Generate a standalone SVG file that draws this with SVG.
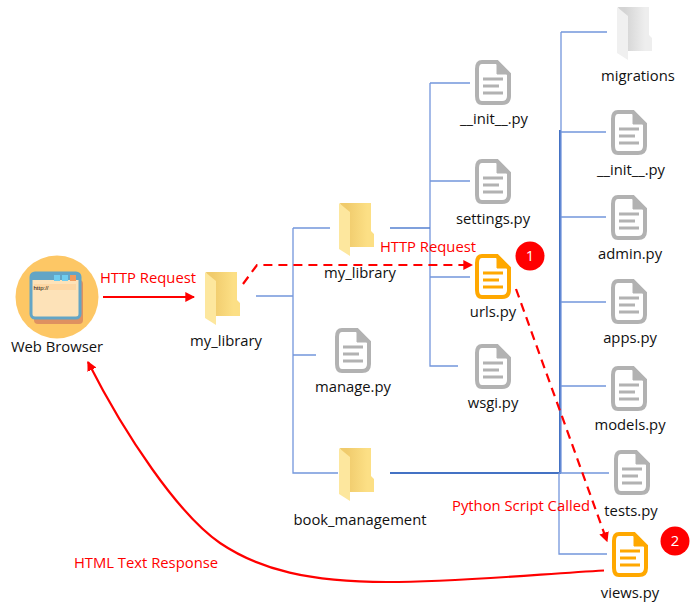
<svg xmlns="http://www.w3.org/2000/svg" width="691" height="612" viewBox="0 0 691 612">
<style>
text{font-family:"Open Sans","Noto Sans",sans-serif;font-size:14.800px;fill:#111;text-anchor:middle}
text.r{fill:#f00}
.b{fill:none;stroke:#7396dc;stroke-width:1.300}
.bd{fill:none;stroke:#4472c4;stroke-width:2}
.bm{fill:none;stroke:#5580d0;stroke-width:1.600}
.rs{fill:none;stroke:#f00;stroke-width:2.200}
.rd{fill:none;stroke:#f00;stroke-width:2.200;stroke-dasharray:9 6}
</style>
<defs>
<marker id="a" viewBox="0 0 8 8" refX="7" refY="4" markerWidth="4.500" markerHeight="4.500" orient="auto"><path d="M0 0L8 4L0 8z" fill="#f00"/></marker>
<linearGradient id="fy" x1="0" x2="1" y1="0" y2="0"><stop offset="0.200" stop-color="#f0cb6c"/><stop offset="0.800" stop-color="#fcdf85"/></linearGradient>
<linearGradient id="fg" x1="0" x2="1" y1="0" y2="0"><stop offset="0.200" stop-color="#d4d4d4"/><stop offset="0.800" stop-color="#eeeeee"/></linearGradient>
<g id="fback"><path d="M1 0H32V28L35 31V44H11Z"/></g>
<g id="doc"><path d="M7 2H22L34 14V36Q34 43 27 43H7Q2 43 2 36V9Q2 2 7 2Z" fill="#fff" stroke="currentColor" stroke-width="4"/><path d="M22 2V14H34Z" fill="currentColor" stroke="currentColor" stroke-width="1"/><path d="M8 19H28M8 26H24M8 33H28" stroke="currentColor" stroke-width="3" fill="none"/></g>
<g id="folderY"><use href="#fback" fill="url(#fy)"/><path d="M0 0L11 9V53L0 46Z" fill="#fde79e"/></g>
<g id="folderG"><use href="#fback" fill="url(#fg)"/><path d="M0 0L11 9V53L0 46Z" fill="#f0f0f0"/></g>
</defs>
<g id="connectors">
<path class="b" d="M256 296H293M293 228V473H338M293 228H330M293 355H316"/>
<path class="b" d="M430 83V366H458M430 83H470M430 181H470M430 277H470"/>
<path class="bm" d="M390 228H430"/>
<path class="bd" d="M390 473H560V130"/>
<path class="b" d="M561 32H607M561 132H606M561 217H606M561 302H606M561 386H606M559 473H609M559 473V554H607M561 32V473"/>
<path class="rs" d="M103 297H194" marker-end="url(#a)"/>
<path class="rd" d="M243 284L257 265H472" marker-end="url(#a)"/>
<path class="rd" d="M516 289L607 541" marker-end="url(#a)"/>
<path class="rs" d="M604 570.500C540 574 460 582 387 582C310 582 260 570 220 543C178 514 125 435 88 362" marker-end="url(#a)"/>
</g>
<g id="browser">
<circle cx="57" cy="297" r="41.500" fill="#fdc765"/>
<rect x="34" y="280" width="49" height="44" rx="4" fill="#df9160"/>
<rect x="31" y="273" width="49" height="45" rx="4" fill="#fde2b8" stroke="#63a5c6" stroke-width="3"/>
<rect x="31" y="273" width="49" height="7" fill="#63a5c6"/>
<rect x="54" y="275" width="6" height="6" fill="#6fcdf0"/><rect x="62" y="275" width="6" height="6" fill="#6fcdf0"/><rect x="70" y="275" width="6" height="6" fill="#f29a5c"/>
<rect x="34" y="284" width="42" height="6" fill="#fdd7a4"/>
<text x="41" y="289.500" style="font-size:6px;font-family:'Liberation Sans',sans-serif">http://</text>
<text x="57" y="352">Web Browser</text>
</g>
<g id="folder-my_library"><use href="#folderY" x="205" y="272"/><text x="226" y="346">my_library</text></g>
<g id="folder-my_library-2"><use href="#folderY" x="339" y="203"/><text x="360" y="278">my_library</text></g>
<g id="folder-book_management"><use href="#folderY" x="339" y="448"/><text x="360" y="525">book_management</text></g>
<g id="folder-migrations"><use href="#folderG" x="617" y="7"/><text x="638" y="81">migrations</text></g>
<g id="doc-manage" color="#b2b2b2"><use href="#doc" x="335" y="328"/><text x="353" y="392">manage.py</text></g>
<g id="doc-init" color="#b2b2b2"><use href="#doc" x="475" y="60"/><text x="494" y="124">__init__.py</text></g>
<g id="doc-settings" color="#b2b2b2"><use href="#doc" x="475" y="159"/><text x="493" y="224">settings.py</text></g>
<g id="doc-urls" color="#ffa800"><use href="#doc" x="475" y="254"/><text x="493" y="317">urls.py</text></g>
<g id="doc-wsgi" color="#b2b2b2"><use href="#doc" x="475" y="344"/><text x="493" y="408">wsgi.py</text></g>
<g id="doc-init-2" color="#b2b2b2"><use href="#doc" x="611" y="110"/><text x="631" y="175">__init__.py</text></g>
<g id="doc-admin" color="#b2b2b2"><use href="#doc" x="611" y="195"/><text x="630" y="259">admin.py</text></g>
<g id="doc-apps" color="#b2b2b2"><use href="#doc" x="611" y="279"/><text x="630" y="343">apps.py</text></g>
<g id="doc-models" color="#b2b2b2"><use href="#doc" x="611" y="366"/><text x="630" y="430">models.py</text></g>
<g id="doc-tests" color="#b2b2b2"><use href="#doc" x="614" y="450"/><text x="631" y="516">tests.py</text></g>
<g id="doc-views" color="#ffa800"><use href="#doc" x="612" y="532"/><text x="630" y="598">views.py</text></g>
<g id="badge-1"><circle cx="530" cy="256" r="14.500" fill="#f00"/><text x="530" y="261" style="fill:#fff">1</text></g>
<g id="badge-2"><circle cx="675" cy="541" r="14.500" fill="#f00"/><text x="675" y="546" style="fill:#fff">2</text></g>
<g id="labels">
<text class="r" x="148" y="283">HTTP Request</text>
<text class="r" x="428" y="252">HTTP Request</text>
<text class="r" x="521" y="511">Python Script Called</text>
<text class="r" x="146" y="568">HTML Text Response</text>
</g>
</svg>
